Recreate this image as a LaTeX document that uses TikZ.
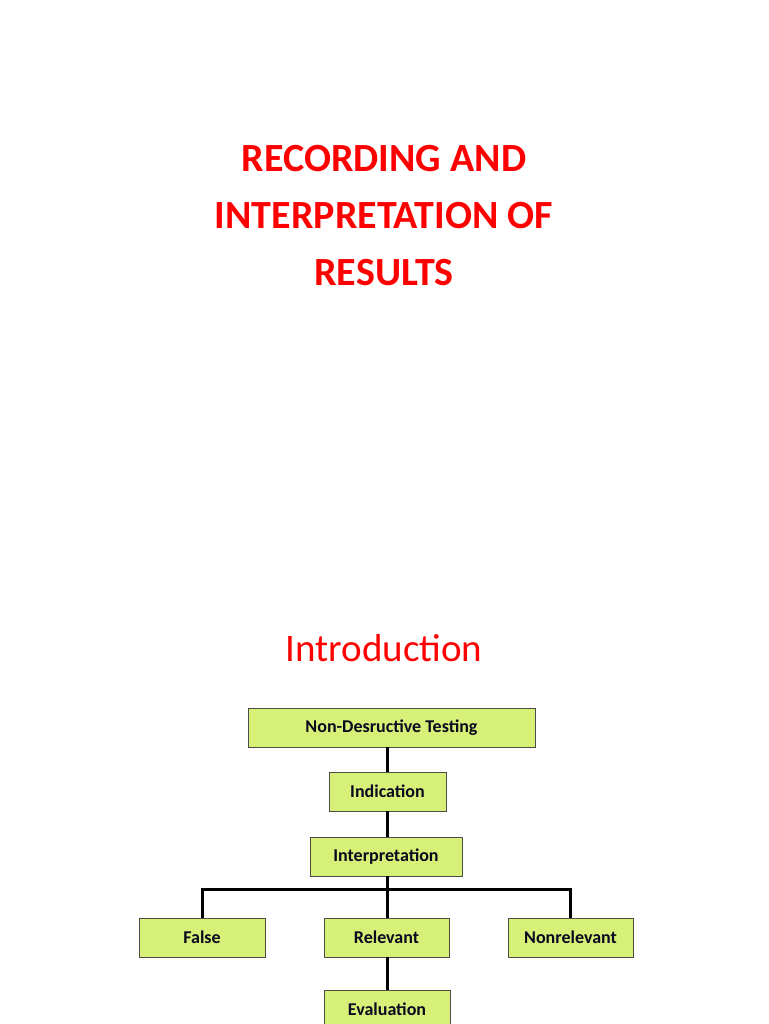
\documentclass[tikz,border=0pt]{standalone}
\usepackage{fontspec}
\setmainfont{Carlito}
\usetikzlibrary{positioning}
\definecolor{boxgreen}{RGB}{214,240,120}
\definecolor{titlered}{RGB}{255,0,0}
\definecolor{inktext}{RGB}{10,10,30}
\tikzset{
	stage/.style={draw=black!70,fill=boxgreen,minimum height=39pt,inner sep=0pt,font=\fontsize{18}{20}\selectfont\bfseries,text=inktext},
	link/.style={line width=3pt}
}

\begin{document}
\begin{tikzpicture}[x=1pt,y=-1pt]
		
		\useasboundingbox (0,0) rectangle (768,1024);
		\node[text=titlered,font=\fontsize{40}{57}\selectfont\bfseries,align=center] (T) at (384,216){RECORDING AND\\INTERPRETATION OF\\RESULTS};
		\node[text=titlered,font=\fontsize{39}{44}\selectfont] (I) at (384,648){Introduction};
		
		\node[stage,minimum width=287pt] (NDT) at (391.5,727.5){Non-Desructive Testing};
		\node[stage,minimum width=117pt] (Ind) at (387.5,791.5){Indication};
		\node[stage,minimum width=152pt] (Int) at (386,856.5){Interpretation};
		\node[stage,minimum width=126pt] (F) at (202,937.5){False};
		\node[stage,minimum width=125pt] (R) at (386.5,937.5){Relevant};
		\node[stage,minimum width=125pt] (N) at (570.5,937.5){Nonrelevant};
		\node[stage,minimum width=126pt] (E) at (387,1009.5){Evaluation};
		
		\coordinate (J) at (387,889);
		\draw[link] (Ind.north) -- (Ind.north |- NDT.south);
		\draw[link] (Ind.south) -- (Ind.south |- Int.north);
		\draw[link] (Int.south -| J) -- (R.north -| J);
		\draw[link] (F.north) |- (J) -| (N.north);
		\draw[link] (R.south -| E.north) -- (E.north);
		
		\end{tikzpicture}
\end{document}
